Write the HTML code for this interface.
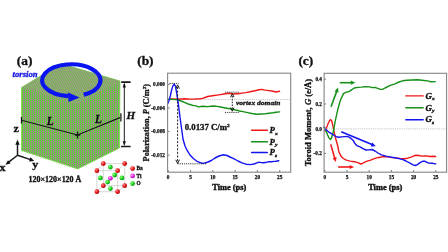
<!DOCTYPE html>
<html><head><meta charset="utf-8"><title>figure</title>
<style>
html,body{margin:0;padding:0;background:#fff;}
body{width:448px;height:252px;overflow:hidden;}
svg{display:block}
text{font-family:"Liberation Serif",serif;font-weight:bold;fill:#111;stroke:#111;stroke-width:0.3px;}
.tk{font-size:5.3px;stroke-width:0.25px}
.fr{stroke:#858585;stroke-width:1.1;fill:none}
.cv{fill:none;stroke-width:1.4;stroke-linejoin:round;stroke-linecap:round}
.cl{fill:none;stroke:#bdbdbd;stroke-width:0.6}
.lg{font-size:5.3px;stroke-width:0.3px}
.dt{stroke:#1a1a1a;stroke-width:0.85;stroke-dasharray:1.2 0.9;fill:none}
.dv{stroke:#1a1a1a;stroke-width:0.95;stroke-dasharray:2.1 1.5;fill:none}
.ah{fill:none;stroke:#111;stroke-width:0.95}
.dim{stroke:#1a1a1a;stroke-width:1;fill:none}
</style></head><body>
<svg width="448" height="252" viewBox="0 0 448 252">
<defs>
<pattern id="tex" width="4" height="2" patternUnits="userSpaceOnUse">
<rect width="4" height="2" fill="#8ca06e"/>
<rect x="0" y="0" width="1" height="1" fill="#4be128"/><rect x="1" y="0" width="1" height="1" fill="#b973a5"/><rect x="2" y="0" width="1" height="1" fill="#4be128"/><rect x="0" y="1" width="1" height="1" fill="#6ebe50"/><rect x="2" y="1" width="1" height="1" fill="#6ebe50"/><rect x="3" y="1" width="1" height="1" fill="#b973a5"/>
</pattern>
<pattern id="tex2" width="4" height="2" patternUnits="userSpaceOnUse" patternTransform="rotate(-28)">
<rect width="4" height="2" fill="#98a67c"/>
<rect x="0" y="0" width="1" height="1" fill="#64cd3e"/><rect x="1" y="0" width="1" height="1" fill="#ac809c"/><rect x="2" y="0" width="1" height="1" fill="#64cd3e"/><rect x="0" y="1" width="1" height="1" fill="#82b262"/><rect x="2" y="1" width="1" height="1" fill="#82b262"/><rect x="3" y="1" width="1" height="1" fill="#ac809c"/>
</pattern>

<radialGradient id="gr" cx="0.35" cy="0.35" r="0.7"><stop offset="0" stop-color="#ff9a9a"/><stop offset="0.45" stop-color="#ee2222"/><stop offset="1" stop-color="#a00000"/></radialGradient>
<radialGradient id="gg" cx="0.35" cy="0.35" r="0.7"><stop offset="0" stop-color="#a8ff9a"/><stop offset="0.45" stop-color="#22dd22"/><stop offset="1" stop-color="#0a8a0a"/></radialGradient>
<radialGradient id="gm" cx="0.35" cy="0.35" r="0.7"><stop offset="0" stop-color="#ffb0ff"/><stop offset="0.45" stop-color="#ee33ee"/><stop offset="1" stop-color="#a010a0"/></radialGradient>
</defs>
<rect width="448" height="252" fill="#fff"/>

<!-- panel a -->
<polygon points="21.5,87.5 61,63.6 120,81 119.5,148 77.7,169 21.5,150.5" fill="url(#tex)" stroke="#6fe23a" stroke-width="0.7"/>
<polygon points="21.5,87.5 61,63.6 120,81 77.5,104.5" fill="url(#tex2)"/>
<!-- torsion arrow -->
<path d="M 83.64,94.80 A 29.2 16.0 0 1 0 68.25,96.21" fill="none" stroke="#0a14f0" stroke-width="4.2"/>
<polygon points="68.0,92.6 79.6,97.4 68.6,101.9" fill="#0a14f0"/>
<text transform="translate(12.5,77.0) scale(1.1,1)" text-anchor="start" style="font-size:7.9px;font-style:italic;fill:#1414e6;stroke:#1414e6;" >torsion</text>
<text transform="translate(16.8,65.2) scale(1.1,1)" text-anchor="start" style="font-size:12.2px;" >(a)</text>
<!-- dimension lines -->
<path d="M21.5,120.3 L77.5,135 L120,117.6" class="dim" style="stroke-width:1.15"/>
<path d="M21.5,117 V123.5 M77.5,131.5 V138.5 M74.8,135 H80.2 M120.9,113.2 V121.6" class="dim" style="stroke-width:1.3"/>
<text transform="translate(46.7,125.3) scale(0.95,1)" text-anchor="start" style="font-size:11.9px;font-style:italic;" >L</text>
<text transform="translate(95.0,123.0) scale(0.95,1)" text-anchor="start" style="font-size:11.9px;font-style:italic;" >L</text>
<path d="M121.2,82.1 H130.6 M121,146.5 H130.6" class="dim" style="stroke-width:1.7"/><path d="M124.3,84 V144.5" class="dim"/>
<polygon points="124.3,82.6 122.7,87.4 125.9,87.4" fill="#111"/>
<polygon points="124.3,146 122.7,141.2 125.9,141.2" fill="#111"/>
<text transform="translate(126.4,118.9) scale(0.98,1)" text-anchor="start" style="font-size:11.3px;font-style:italic;" >H</text>
<!-- axes -->
<path d="M17.5,155.3 V143 M17.5,155.3 L8.4,162.4 M17.5,155.3 L30.6,159.6" class="dim" style="stroke-width:1.45"/>
<polygon points="17.5,139.8 15.3,144.8 19.7,144.8" fill="#111"/>
<polygon points="5.4,164.8 8.0,160.2 10.6,163.6" fill="#111"/>
<polygon points="34.2,160.9 29.0,161.6 30.4,157.2" fill="#111"/>
<text transform="translate(13.6,131.6) scale(1.1,1)" text-anchor="start" style="font-size:11px;" >z</text>
<text transform="translate(-0.6,171) scale(1.1,1)" text-anchor="start" style="font-size:11px;" >x</text>
<text transform="translate(32.3,167.6) scale(1.1,1)" text-anchor="start" style="font-size:11px;" >y</text>
<text transform="translate(28.6,182.3) scale(1.11,1)" text-anchor="start" style="font-size:7.2px;" >120×120×120 Å</text>
<polygon points="103.3,163.6 124.7,163.6 124.7,185.7 103.3,185.7" class="cl"/><polygon points="96.9,170.7 117.6,170.7 117.6,191.7 96.9,191.7" class="cl"/><line x1="103.3" y1="163.6" x2="96.9" y2="170.7" class="cl"/><line x1="124.7" y1="163.6" x2="117.6" y2="170.7" class="cl"/><line x1="124.7" y1="185.7" x2="117.6" y2="191.7" class="cl"/><line x1="103.3" y1="185.7" x2="96.9" y2="191.7" class="cl"/><circle cx="103.3" cy="163.6" r="2.4" fill="url(#gr)"/><circle cx="124.7" cy="163.6" r="2.4" fill="url(#gr)"/><circle cx="103.3" cy="185.7" r="2.4" fill="url(#gr)"/><circle cx="124.7" cy="185.7" r="2.4" fill="url(#gr)"/><circle cx="110.4" cy="167.1" r="2.4" fill="url(#gg)"/><circle cx="121.9" cy="177.9" r="2.4" fill="url(#gg)"/><circle cx="114.7" cy="175" r="2.4" fill="url(#gg)"/><circle cx="110.4" cy="178.3" r="2.4" fill="url(#gm)"/><circle cx="100.4" cy="177.9" r="2.4" fill="url(#gg)"/><circle cx="107.6" cy="182.1" r="2.4" fill="url(#gg)"/><circle cx="110.4" cy="188.6" r="2.4" fill="url(#gg)"/><circle cx="96.9" cy="170.7" r="2.4" fill="url(#gr)"/><circle cx="117.6" cy="170.7" r="2.4" fill="url(#gr)"/><circle cx="96.9" cy="191.7" r="2.4" fill="url(#gr)"/><circle cx="117.6" cy="191.7" r="2.4" fill="url(#gr)"/><circle cx="132.6" cy="168.6" r="2.4" fill="url(#gr)"/><circle cx="132.6" cy="175.9" r="2.4" fill="url(#gm)"/><circle cx="132.6" cy="183.6" r="2.4" fill="url(#gg)"/><text x="136.5" y="170.4" class="lg">Ba</text><text x="136.5" y="177.7" class="lg">Ti</text><text x="136.5" y="185.4" class="lg">O</text>

<!-- panel b -->
<text transform="translate(137.2,64.6) scale(1.1,1)" text-anchor="start" style="font-size:12.2px;" >(b)</text>
<line x1="168" y1="99.6" x2="290.6" y2="99.6" stroke="#b5b5b5" stroke-width="0.8" stroke-dasharray="1.2 1"/>
<polyline points="167.8,99.4 172.0,99.0 178.0,99.3 185.0,98.8 190.0,99.1 195.0,99.0 200.0,98.7 202.6,98.4 205.0,97.5 207.7,96.5 211.0,96.0 214.0,95.5 217.0,95.1 220.4,94.6 224.0,94.0 228.6,93.3 231.0,93.5 233.0,94.0 236.0,93.8 238.0,93.7 242.0,93.1 245.7,92.6 250.0,91.8 255.0,90.7 259.0,89.8 261.8,89.4 265.0,90.1 269.0,90.6 272.0,91.0 276.0,92.0 279.6,91.3" class="cv" stroke="#f01818"/>
<polyline points="167.8,99.4 172.0,99.4 176.0,99.6 178.4,100.2 181.0,101.0 185.0,102.6 188.2,104.0 193.6,105.6 195.0,105.6 198.8,106.9 202.6,106.3 207.7,106.6 211.0,106.2 214.0,106.0 217.0,106.4 220.4,107.0 226.7,108.2 231.4,109.0 233.0,109.4 236.8,110.2 239.4,111.0 243.0,111.6 247.6,112.6 252.0,113.5 256.5,114.2 261.0,114.0 265.4,113.8 269.0,113.2 273.0,112.8 276.0,112.3 279.6,111.9" class="cv" stroke="#169016"/>
<polyline points="167.8,103.4 168.6,101.6 169.4,99.6 170.4,95.5 171.4,90.8 172.8,86.1 174.1,84.2 175.5,86.1 176.4,91.5 177.5,98.3 178.5,105.0 179.3,111.8 181.0,124.5 183.0,139.0 185.0,146.0 187.3,150.7 190.0,155.0 193.6,158.8 197.0,161.3 201.6,163.2 205.0,163.0 208.0,162.0 211.4,160.5 215.0,158.0 219.0,156.0 223.4,154.8 227.0,155.5 230.0,157.0 233.2,158.4 238.0,161.0 242.0,162.9 246.0,164.2 250.2,164.6 254.0,164.0 257.0,162.8 259.0,162.1 261.0,162.6 263.6,162.7 267.0,162.2 269.0,161.6 271.6,161.8 274.0,161.4 276.0,161.3 278.8,160.8" class="cv" stroke="#1414f0"/>
<rect x="167.6" y="73.2" width="123.1" height="99.0" class="fr"/>
<line x1="168.2" y1="172" x2="168.2" y2="170" class="fr"/><text x="168.2" y="178.5" class="tk" text-anchor="middle">0</text><line x1="190.5" y1="172" x2="190.5" y2="170" class="fr"/><text x="190.5" y="178.5" class="tk" text-anchor="middle">5</text><line x1="212.8" y1="172" x2="212.8" y2="170" class="fr"/><text x="212.8" y="178.5" class="tk" text-anchor="middle">10</text><line x1="235.1" y1="172" x2="235.1" y2="170" class="fr"/><text x="235.1" y="178.5" class="tk" text-anchor="middle">15</text><line x1="257.4" y1="172" x2="257.4" y2="170" class="fr"/><text x="257.4" y="178.5" class="tk" text-anchor="middle">20</text><line x1="279.7" y1="172" x2="279.7" y2="170" class="fr"/><text x="279.7" y="178.5" class="tk" text-anchor="middle">25</text><line x1="167.6" y1="84.4" x2="169.6" y2="84.4" class="fr"/><text x="165" y="86.2" class="tk" text-anchor="end">0.000</text><line x1="167.6" y1="108.0" x2="169.6" y2="108.0" class="fr"/><text x="165" y="109.8" class="tk" text-anchor="end">-0.004</text><line x1="167.6" y1="131.5" x2="169.6" y2="131.5" class="fr"/><text x="165" y="133.3" class="tk" text-anchor="end">-0.008</text><line x1="167.6" y1="155.1" x2="169.6" y2="155.1" class="fr"/><text x="165" y="156.9" class="tk" text-anchor="end">-0.012</text>
<path d="M169.5,83.4 H178.6 M177.6,163.8 H207" class="dt"/>
<path d="M177.6,87 V162" class="dv"/>
<path d="M175.8,88.6 L177.6,84.8 L179.4,88.6 M175.8,159.8 L177.6,163.6 L179.4,159.8" class="ah"/>
<path d="M225,92.2 H238.8 M225,112.4 H238.8" class="dt"/>
<path d="M232.3,96 V109.5" class="dv" style="stroke-dasharray:1.6 1.2"/>
<path d="M230.6,97.2 L232.3,93.6 L234,97.2 M230.6,107.6 L232.3,111.2 L234,107.6" class="ah"/>
<text transform="translate(236,105.4) scale(1.1,1)" text-anchor="start" style="font-size:6.85px;font-style:italic;" >vortex domain</text>
<text transform="translate(184.7,129.6) scale(1.085,1)" text-anchor="start" style="font-size:8.1px;" >0.0137 C/m<tspan dy="-3" style="font-size:5px">2</tspan></text>
<path d="M251.6,130.2 H267.4" class="cv" stroke="#f01818"/>
<path d="M251.6,141.8 H267.4" class="cv" stroke="#169016"/>
<path d="M251.6,152.5 H267.4" class="cv" stroke="#1414f0"/>
<text transform="translate(269.6,133) scale(1.1,1)" text-anchor="start" style="font-size:8px;font-style:italic;" >P<tspan dy="1.6" style="font-size:5px">x</tspan></text>
<text transform="translate(269.6,144.6) scale(1.1,1)" text-anchor="start" style="font-size:8px;font-style:italic;" >P<tspan dy="1.6" style="font-size:5px">y</tspan></text>
<text transform="translate(269.6,155.3) scale(1.1,1)" text-anchor="start" style="font-size:8px;font-style:italic;" >P<tspan dy="1.6" style="font-size:5px">z</tspan></text>
<text transform="translate(148.6,161.4) rotate(-90) scale(1.1,1)" text-anchor="start" style="font-size:7.5px;" >Polarization, <tspan font-style="italic">P</tspan> (C/m<tspan dy="-3.1" style="font-size:4.6px">2</tspan><tspan dy="3.1">)</tspan></text>
<text transform="translate(229.3,190.0) scale(1.12,1)" text-anchor="middle" style="font-size:7.5px;stroke-width:0.35px;" >Time (ps)</text>

<!-- panel c -->
<text transform="translate(298.4,64.8) scale(1.1,1)" text-anchor="start" style="font-size:12.2px;" >(c)</text>
<line x1="324.5" y1="128.9" x2="446.6" y2="128.9" stroke="#b5b5b5" stroke-width="0.8" stroke-dasharray="1.2 1"/>
<polyline points="324.7,131.2 326.0,128.4 327.4,125.6 328.5,122.8 329.5,120.8 330.5,119.6 331.3,120.2 331.9,121.5 333.1,126.9 334.3,133.0 335.5,138.0 336.5,141.5 337.6,145.5 339.0,152.0 341.1,156.4 343.4,158.5 345.7,159.8 350.0,161.1 354.3,161.7 357.9,162.7 360.7,164.0 362.5,163.3 364.3,162.3 367.0,161.2 370.0,160.3 373.0,159.2 376.7,157.9 380.0,157.2 383.8,156.6 388.0,156.8 392.0,157.6 395.7,157.9 400.0,158.4 404.0,158.7 407.6,158.2 411.0,157.2 414.0,155.8 416.0,155.3 419.0,155.5 421.9,156.1 426.0,155.9 430.0,156.5 433.0,156.2 435.7,156.5" class="cv" stroke="#f01818"/>
<polyline points="324.2,126.9 325.5,130.0 326.8,133.0 328.8,137.7 330.5,139.4 331.6,138.0 332.4,135.0 333.5,131.0 334.9,122.9 336.0,117.6 336.9,113.4 338.2,108.0 339.4,103.6 340.6,99.8 342.2,96.4 343.6,93.4 346.0,92.3 348.9,91.6 351.5,89.8 354.3,88.0 358.0,87.4 361.4,87.1 365.0,86.6 370.0,86.9 372.0,87.6 375.0,87.4 379.8,89.2 382.5,89.4 385.0,88.0 389.7,85.7 395.0,83.8 399.0,82.0 402.6,80.8 407.0,80.3 412.0,80.0 417.5,79.7 422.0,80.2 427.4,80.9 431.0,81.8 435.3,81.6" class="cv" stroke="#169016"/>
<polyline points="324.2,127.6 326.0,129.6 328.1,131.6 331.0,133.4 333.5,135.0 336.9,137.0 339.0,137.3 341.6,136.9 344.5,136.6 347.0,136.4 349.0,137.2 351.0,138.4 352.5,139.8 353.8,141.2 354.5,143.0 357.0,145.7 360.0,146.9 363.0,148.6 366.0,150.0 369.0,149.9 371.9,149.5 375.0,151.0 378.0,153.0 381.4,154.8 386.0,156.2 391.0,157.1 395.0,157.8 399.0,158.6 402.9,159.6 406.0,161.0 410.0,163.1 413.0,164.8 415.2,165.5 417.5,164.6 420.0,162.6 423.1,161.1 425.0,161.3 427.0,162.4 429.0,163.1 432.0,163.3 435.7,163.9" class="cv" stroke="#1414f0"/>
<rect x="324.1" y="73.3" width="122.5" height="98.9" class="fr"/>
<line x1="324.8" y1="172" x2="324.8" y2="170" class="fr"/><text x="324.8" y="178.5" class="tk" text-anchor="middle">0</text><line x1="347.0" y1="172" x2="347.0" y2="170" class="fr"/><text x="347.0" y="178.5" class="tk" text-anchor="middle">5</text><line x1="369.2" y1="172" x2="369.2" y2="170" class="fr"/><text x="369.2" y="178.5" class="tk" text-anchor="middle">10</text><line x1="391.4" y1="172" x2="391.4" y2="170" class="fr"/><text x="391.4" y="178.5" class="tk" text-anchor="middle">15</text><line x1="413.6" y1="172" x2="413.6" y2="170" class="fr"/><text x="413.6" y="178.5" class="tk" text-anchor="middle">20</text><line x1="435.8" y1="172" x2="435.8" y2="170" class="fr"/><text x="435.8" y="178.5" class="tk" text-anchor="middle">25</text><line x1="324.1" y1="79.2" x2="326.1" y2="79.2" class="fr"/><text x="322" y="81.0" class="tk" text-anchor="end">0.4</text><line x1="324.1" y1="104.0" x2="326.1" y2="104.0" class="fr"/><text x="322" y="105.8" class="tk" text-anchor="end">0.2</text><line x1="324.1" y1="128.7" x2="326.1" y2="128.7" class="fr"/><text x="322" y="130.5" class="tk" text-anchor="end">0.0</text><line x1="324.1" y1="153.4" x2="326.1" y2="153.4" class="fr"/><text x="322" y="155.2" class="tk" text-anchor="end">-0.2</text>
<!-- arrows -->
<path d="M331.0,106.8 L336.7,91.4" fill="none" stroke="#169016" stroke-width="1.6"/><polygon points="338.1,87.6 338.5,92.6 334.5,91.2" fill="#169016"/><path d="M339.8,82.7 L351.3,82.7" fill="none" stroke="#169016" stroke-width="1.6"/><polygon points="355.4,82.7 350.8,84.8 350.8,80.6" fill="#169016"/><path d="M330.7,144.4 L334.7,158.1" fill="none" stroke="#f01818" stroke-width="1.6"/><polygon points="335.9,162.0 332.6,158.2 336.6,157.0" fill="#f01818"/><path d="M338.2,167.0 L350.1,167.0" fill="none" stroke="#f01818" stroke-width="1.6"/><polygon points="354.2,167.0 349.6,169.1 349.6,164.9" fill="#f01818"/><path d="M341.2,131.7 L372.0,144.6" fill="none" stroke="#1414f0" stroke-width="1.6"/><polygon points="375.8,146.2 370.7,146.4 372.4,142.5" fill="#1414f0"/>
<path d="M405.8,95.9 H423.2" class="cv" stroke="#f01818"/>
<path d="M405.8,107.8 H423.2" class="cv" stroke="#169016"/>
<path d="M405.8,119.7 H423.2" class="cv" stroke="#1414f0"/>
<text transform="translate(425.6,98.6) scale(1.1,1)" text-anchor="start" style="font-size:8px;font-style:italic;" >G<tspan dy="1.6" style="font-size:5px">x</tspan></text>
<text transform="translate(425.6,110.5) scale(1.1,1)" text-anchor="start" style="font-size:8px;font-style:italic;" >G<tspan dy="1.6" style="font-size:5px">y</tspan></text>
<text transform="translate(425.6,122.4) scale(1.1,1)" text-anchor="start" style="font-size:8px;font-style:italic;" >G<tspan dy="1.6" style="font-size:5px">z</tspan></text>
<text transform="translate(310.9,166.3) rotate(-90) scale(1.1,1)" text-anchor="start" style="font-size:7.75px;" >Toroid Moment, <tspan font-style="italic">G</tspan> (e/Å)</text>
<text transform="translate(385.2,190.0) scale(1.12,1)" text-anchor="middle" style="font-size:7.5px;stroke-width:0.35px;" >Time (ps)</text>
</svg>
</body></html>
